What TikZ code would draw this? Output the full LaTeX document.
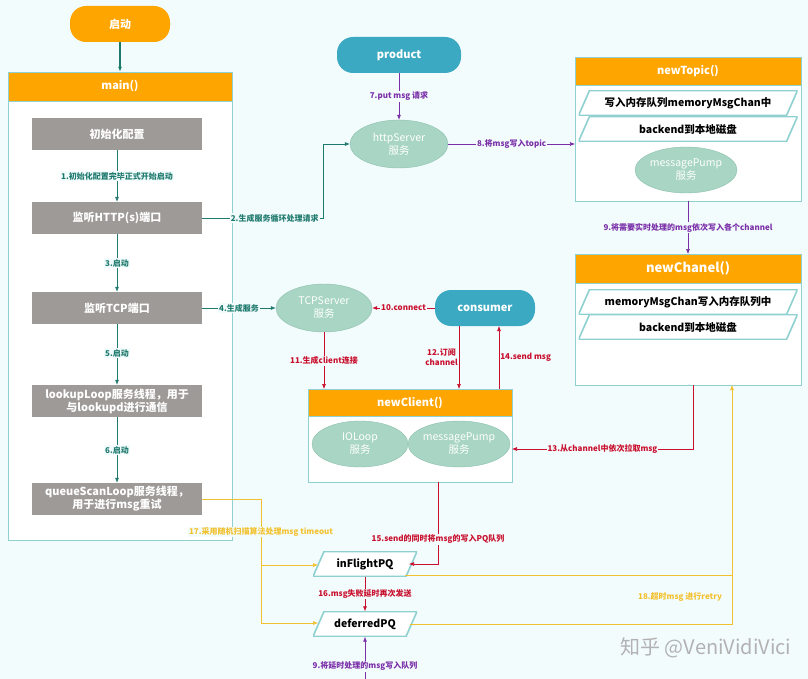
\documentclass[tikz,border=0pt]{standalone}
\usepackage{fontspec}
\setmainfont{Noto Sans CJK SC}
\usetikzlibrary{shapes.geometric,positioning,arrows.meta}
\definecolor{hdr}{HTML}{FFA500}
\definecolor{pill}{HTML}{3AA9C1}
\definecolor{ell}{HTML}{A8D5C4}
\definecolor{ellb}{HTML}{8CC0AE}
\definecolor{grayb}{HTML}{9E9A98}
\definecolor{tealc}{HTML}{1F7A6E}
\definecolor{purp}{HTML}{7A2FA8}
\definecolor{redc}{HTML}{C8102E}
\definecolor{yel}{HTML}{F2C12E}
\definecolor{bgc}{HTML}{F3FCFD}
\definecolor{boxb}{HTML}{8FD0D0}
\tikzset{
  pillnode/.style = {rounded corners=16pt, minimum width=#1, minimum height=36pt, font=\fontsize{11}{13}\selectfont\bfseries, text=white},
  frame/.style = {draw=boxb, fill=white, line width=0.8pt},
  header/.style = {fill=hdr, draw=boxb, text=white, font=\fontsize{11}{13}\selectfont\bfseries},
  mainstep/.style = {fill=grayb, text=white, minimum width=170pt, minimum height=32pt, align=center, font=\fontsize{11}{13}\selectfont\bfseries},
  svc/.style = {ellipse, fill=ell, draw=ellb, text=white, minimum width=96pt, minimum height=46pt, inner sep=0pt, align=center, font=\fontsize{10.5}{13}\selectfont},
  queue/.style = {rectangle, minimum width=#1, minimum height=25pt, inner sep=1pt, font=\fontsize{10.5}{12}\selectfont\bfseries,
    path picture={\filldraw[fill=white, draw=boxb, line width=1.6pt]
      (path picture bounding box.south west) -- ([xshift=-11pt]path picture bounding box.south east)
      -- (path picture bounding box.north east) -- ([xshift=11pt]path picture bounding box.north west) -- cycle;}},
  lbl/.style = {fill=bgc, inner sep=1pt, font=\fontsize{8}{10}\selectfont\bfseries, align=center},
  arr/.style = {-{Latex[length=5pt,width=4pt]}, line width=0.6pt, draw=#1},
}
\begin{document}
\begin{tikzpicture}[x=1pt, y=-1pt]
  \fill[bgc] (0,0) rectangle (808,679);
  \useasboundingbox (0,0) rectangle (808,679);

  % main column
  \node[pillnode=100pt, fill=hdr] (start) at (120,24) {启动};
  \draw[frame] (8,72) rectangle (232,540);
  \node[header, minimum width=224pt, minimum height=29pt] (main) at (120,86.5) {main()};
  \node[mainstep] (init) at (117,134) {初始化配置};
  \node[mainstep] (http) at (117,218) {监听HTTP(s)端口};
  \node[mainstep] (tcp) at (117,308) {监听TCP端口};
  \node[mainstep] (lookup) at (117,401) {lookupLoop服务线程，用于\\与lookupd进行通信};
  \node[mainstep] (scan) at (117,499) {queueScanLoop服务线程，\\用于进行msg重试};
  \draw[arr=tealc, line width=1.2pt] (start) -- (main);

  % topic / channel
  \draw[frame] (575,57) rectangle (801,201);
  \node[header, minimum width=226pt, minimum height=28pt] (topic) at (688,71) {newTopic()};
  \node[queue=219pt] (tq1) at (688,103) {写入内存队列memoryMsgChan中};
  \node[queue=219pt] (tq2) at (688,129) {backend到本地磁盘};
  \node[svc] (tpump) at (686,170) {messagePump\\服务};
  \draw[frame] (575,254) rectangle (801,385);
  \coordinate (chanbot) at (693,385);
  \coordinate (chanret) at (732,385);
  \node[header, minimum width=226pt, minimum height=29pt, font=\fontsize{13}{15}\selectfont\bfseries] (chan) at (688,268.5) {newChanel()};
  \node[queue=219pt] (cq1) at (688,302) {memoryMsgChan写入内存队列中};
  \node[queue=219pt] (cq2) at (688,327) {backend到本地磁盘};

  % client
  \draw[frame] (308,389) rectangle (512,482);
  \node[header, minimum width=204pt, minimum height=27pt] (client) at (410,402.5) {newClient()};
  \node[svc] (ioloop) at (360,444) {IOLoop\\服务};
  \node[svc] (cpump) at (459,444) {messagePump\\服务};
  \coordinate (clientr) at (512,449);

  \node[pillnode=124pt, fill=pill] (product) at (399,55) {product};
  \node[svc, minimum width=98pt, minimum height=48pt] (httpsrv) at (399,144) {httpServer\\服务};
  \node[svc, minimum height=48pt] (tcpsrv) at (324,308) {TCPServer\\服务};
  \node[pillnode=100pt, fill=pill] (consumer) at (485,308) {consumer};
  \node[queue=104pt] (inflight) at (365,564) {inFlightPQ};
  \node[queue=104pt] (deferred) at (365,624) {deferredPQ};
  \coordinate (ext) at (365,679);

  % teal flow
  \draw[arr=tealc] (init) -- node[lbl, text=tealc]{1.初始化配置完毕正式开始启动} (http);
  \draw[arr=tealc] (http) -- node[lbl, text=tealc]{3.启动} (tcp);
  \draw[arr=tealc] (tcp) -- node[lbl, text=tealc, pos=0.48]{5.启动} (lookup);
  \draw[arr=tealc] (lookup) -- node[lbl, text=tealc]{6.启动} (scan);
  \draw[arr=tealc] (http.east) -- node[lbl, text=tealc, pos=0.6]{2.生成服务循环处理请求} (323,218) |- (httpsrv.west);
  \draw[arr=tealc] (tcp.east) -- node[lbl, text=tealc]{4.生成服务} (tcpsrv.west);

  % purple flow
  \draw[arr=purp] (product) -- node[lbl, text=purp]{7.put msg 请求} (httpsrv);
  \draw[arr=purp] (httpsrv.east) -- node[lbl, text=purp]{8.将msg写入topic} (575,144);
  \draw[arr=purp] (688,201) -- node[lbl, text=purp]{9.将需要实时处理的msg依次写入各个channel} (688,254);
  \draw[arr=purp] (ext) -- node[lbl, text=purp, pos=0.3]{9.将延时处理的msg写入队列} (deferred.south);

  % red flow
  \draw[arr=redc] (consumer.west) -- node[lbl, text=redc]{10.connect} (tcpsrv.east);
  \draw[arr=redc] (tcpsrv.south) -- node[lbl, text=redc]{11.生成client连接} (324,389);
  \draw[arr=redc] (459,326) -- node[lbl, text=redc, left, fill=none]{12.订阅\\channel} (459,389);
  \draw[arr=redc] (499,389) -- node[lbl, text=redc, right, fill=none]{14.send msg} (499,326);
  \draw[arr=redc] (chanbot) |- node[lbl, text=redc, pos=0.75]{13.从channel中依次拉取msg} (clientr);
  \draw[arr=redc] (438,482) |- node[lbl, text=redc, pos=0.35]{15.send的同时将msg的写入PQ队列} (409,564);
  \draw[arr=redc] (inflight) -- node[lbl, text=redc]{16.msg失败延时再次发送} (deferred);

  % yellow flow
  \draw[arr=yel] (scan.east) -- (261,499) |- node[lbl, text=yel, pos=0.25]{17.采用随机扫描算法处理msg timeout} (318,565);
  \draw[arr=yel] (261,560) |- (318,623);
  \draw[arr=yel] (405,575) -| (chanret);
  \draw[yel, line width=0.6pt] (410,624) -| (732,575);
  \node[lbl, text=yel, fill=none] (retry) at (680,597) {18.超时msg 进行retry};

  \node[text=black!30, font=\fontsize{20}{22}\selectfont] (mark) at (706,648) {知乎 @VeniVidiVici};
\end{tikzpicture}
\end{document}
